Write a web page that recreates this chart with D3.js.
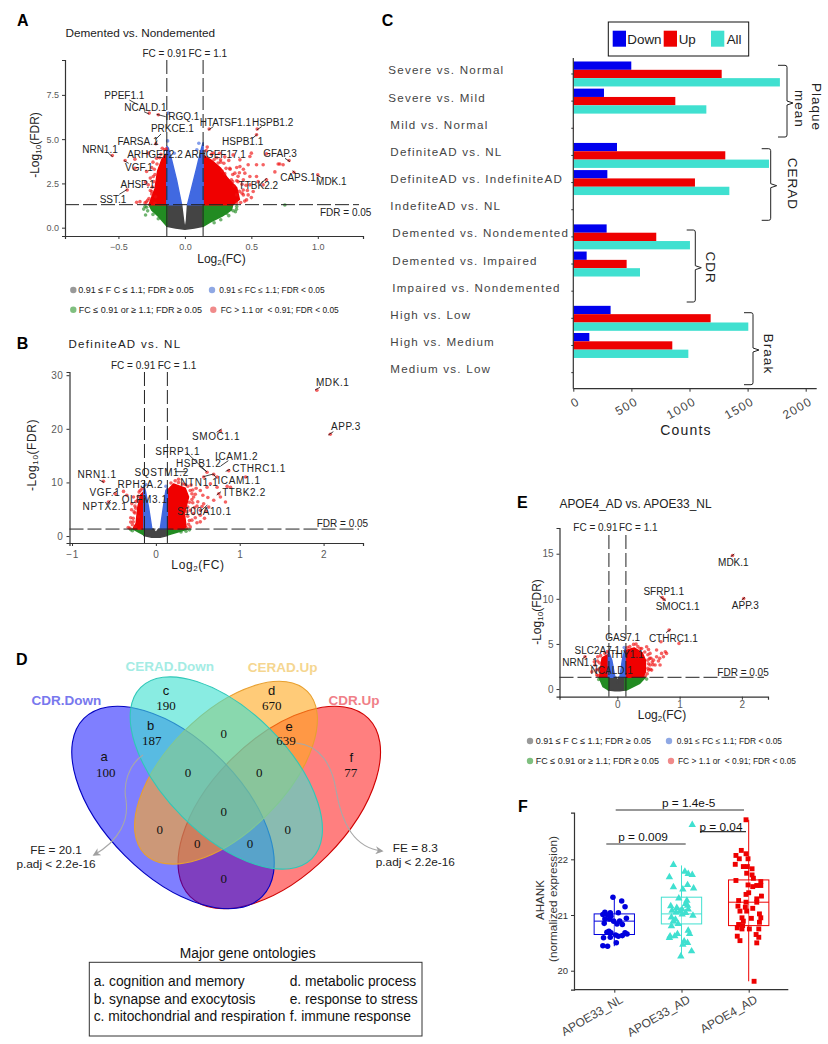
<!DOCTYPE html>
<html>
<head>
<meta charset="utf-8">
<script src="https://cdn.jsdelivr.net/npm/d3@7"></script>
<style>
html, body { margin: 0; padding: 0; background: #fff; }
svg { display: block; }
text { font-family: "Liberation Sans", Arial, sans-serif; }
</style>
</head>
<body>
<div class="canvas"></div>
<script>
// ---------- panel C counts ----------
const comparisons = ['Severe vs. Normal', 'Severe vs. Mild', 'Mild vs. Normal', 'DefiniteAD vs. NL',
    'DefiniteAD vs. IndefiniteAD', 'IndefiteAD vs. NL', 'Demented vs. Nondemented', 'Demented vs. Impaired',
    'Impaired vs. Nondemented', 'High vs. Low', 'High vs. Medium', 'Medium vs. Low'];
const downCounts = [499, 264, 0, 376, 293, 0, 287, 115, 0, 321, 138, 0];
const upCounts = [1277, 878, 2, 1308, 1047, 0, 714, 459, 0, 1182, 852, 0];
const allCounts = [1778, 1145, 0, 1684, 1343, 0, 1004, 574, 0, 1506, 990, 0];
const countTicks = [0, 500, 1000, 1500, 2000];

// ---------- panel D counts ----------
const vennLetters = ['a', 'b', 'c', 'd', 'e', 'f'];
const vennCounts = [100, 187, 190, 670, 639, 77];
const vennEmpty = [0, 0, 0, 0, 0, 0, 0, 0, 0];
const ontologies = ['a. cognition and memory', 'b. synapse and exocytosis', 'c. mitochondrial and respiration',
    'd. metabolic process', 'e. response to stress', 'f. immune response'];

// ---------- volcano panels: outlines of the overplotted masses, then the points that can be told apart ----------
const aGray = [[-0.136,1.3],[-0.025,1.3],[-0.01,0.4],[-0.004,0.12],[0.006,0.12],[0.012,0.4],[0.02,1.3],[0.137,1.3],[0.137,0.08],[0.07,-0.02],[0,-0.09],[-0.07,-0.02],[-0.136,0.08]];
const aGreenL = [[-0.136,1.3],[-0.27,1.3],[-0.25,1.0],[-0.2,0.65],[-0.136,0.1]];
const aGreenR = [[0.137,1.3],[0.36,1.3],[0.35,1.0],[0.28,0.65],[0.19,0.32],[0.137,0.08]];
const aBlueL = [[-0.136,1.3],[-0.025,1.3],[-0.063,2.7],[-0.1,3.83],[-0.125,4.5],[-0.136,4.6]];
const aBlueR = [[0.02,1.3],[0.05,2.2],[0.09,3.4],[0.115,4.2],[0.137,4.8],[0.137,1.3]];
const aRedL = [[-0.136,1.3],[-0.27,1.3],[-0.225,2.2],[-0.205,3.2],[-0.17,3.9],[-0.136,4.2]];
const aRedR = [[0.137,1.3],[0.137,4.1],[0.2,3.8],[0.27,3.35],[0.32,2.8],[0.39,2.25],[0.41,1.6],[0.36,1.3]];
const aRedPts = [[-0.546,4.08],[-0.45,3.79],[-0.376,3.87],[-0.376,3.36],[-0.268,6.47],[-0.2,6.38],[-0.218,4.74],[-0.276,4.21],[-0.17,4.49],[-0.213,3.92],[-0.288,3.17],[-0.295,2.57],[-0.276,2.42],[-0.238,2.89],[-0.25,2.04],[-0.22,1.75],[-0.363,1.43],[-0.338,1.47],[-0.434,2.13],[-0.226,1.38],[-0.25,3.4],[-0.24,3.7],[-0.26,2.8],[-0.3,1.4],
    [-0.29,1.45],[-0.27,1.65],[-0.25,1.9],[-0.245,2.3],[-0.235,2.6],[-0.225,3.0],[-0.23,3.3],[-0.21,3.6],[-0.19,3.95],[-0.18,4.15],[-0.155,4.4],[-0.14,4.45],[-0.26,2.1],[-0.28,1.55],
    [0.183,5.57],[0.544,5.57],[0.539,5.25],[0.5,4.21],[0.168,4.55],[0.213,4.21],[0.268,3.83],[0.293,3.64],[0.363,4.11],[0.414,3.83],[0.489,4.02],[0.476,3.55],[0.539,3.55],[0.589,3.55],[0.614,4.17],[0.702,3.6],[0.714,3.6],[0.739,3.55],[0.784,3.79],[0.677,3.15],[0.82,3.13],[1.0,2.98],[0.614,2.7],[0.539,2.89],[0.489,2.89],[0.451,3.08],[0.376,3.08],[0.338,3.36],[0.414,3.45],[0.589,2.42],[0.551,2.6],[0.489,2.42],[0.439,2.13],[0.476,1.85],[0.514,2.04],[0.464,1.57],[0.388,1.85],[0.33,3.8],[0.26,4.2],[0.39,3.4],[0.44,2.7],[0.4,2.9],[0.36,2.6],[0.46,2.4],[0.3,4.0],
    [0.16,4.35],[0.2,4.15],[0.24,3.95],[0.27,3.7],[0.31,3.35],[0.3,3.05],[0.36,3.0],[0.35,2.7],[0.39,2.65],[0.43,2.45],[0.41,2.05],[0.44,1.85],[0.45,1.5],[0.42,1.42],[0.39,1.4],[0.25,3.65],[0.22,3.85],[0.28,3.2],[0.34,3.3],[0.37,2.35],[0.43,1.95],[0.4,2.6],[0.47,2.1],[0.5,1.7],[0.41,3.1],[0.44,3.3]];
const aBluePts = [[-0.125,6.47],[0.105,4.77],[-0.13,4.9],[-0.08,4.2],[0.09,4.4]];
const aGreenPts = [[-0.296,0.72],[-0.288,1.15],[-0.238,1.0],[0.388,1.04],[0.363,0.96],[0.752,1.28],[0.313,0.81],[-0.31,1.05],[-0.3,1.2],[-0.28,0.95],[-0.24,0.75],[-0.2,0.5],[0.39,1.2],[0.38,0.9],[0.33,0.68],[0.27,0.45],[0.22,0.28]];

const bGray = [[-0.143,1.3],[-0.03,1.3],[0,0.6],[0.03,1.3],[0.137,1.3],[0.137,0.1],[0.05,-0.25],[-0.05,-0.25],[-0.143,0.1]];
const bGreenL = [[-0.143,1.3],[-0.27,1.3],[-0.2,0.7],[-0.143,0.2]];
const bGreenR = [[0.137,1.3],[0.38,1.3],[0.25,0.7],[0.137,0.2]];
const bBlueL = [[-0.143,1.3],[-0.048,1.3],[-0.088,5.4],[-0.127,8.5],[-0.143,9.4]];
const bBlueR = [[0.052,1.3],[0.09,5.4],[0.12,8.5],[0.137,8.9],[0.137,1.3]];
const bRedL = [[-0.143,1.3],[-0.275,1.3],[-0.235,2.35],[-0.215,5.4],[-0.18,7.7],[-0.143,8.3]];
const bRedR = [[0.137,1.3],[0.137,8.5],[0.21,9.7],[0.35,8.9],[0.39,7.3],[0.34,4.2],[0.36,1.73],[0.33,1.3]];
const bRedPts = [[1.92,27.2],[2.08,19.0],[0.77,19.6],[-0.625,10.2],[-0.486,7.9],[-0.566,6.36],[-0.386,8.33],[0.869,12.2],[0.61,11.9],[1.07,11],[0.69,11.5],[0.73,11],[0.57,11],[0.75,7.9],[0.85,9.26],[0.89,9.1],[0.83,6.36],[0.63,5.4],[0.53,2.65],[0.49,2.47],[0.43,2.96],[0.41,4.8],[0.45,7.28],[0.53,8.5],[0.61,9.1],[0.65,9.75],[0.73,9.1],[0.57,6],[0.69,6.67],[0.77,7.28],[0.53,4.8],[0.53,3.9],[0.47,3.4],[0.44,6.2],[0.48,8.9],[0.5,6.4],[0.56,7.6],[0.62,7.2],[0.42,9.5],[0.46,5.3],
    [0.18,9.9],[0.23,10.3],[0.27,10.0],[0.32,9.7],[0.38,9.3],[0.41,8.5],[0.43,7.9],[0.43,6.8],[0.4,6.3],[0.38,5.4],[0.37,4.5],[0.38,3.7],[0.4,2.9],[0.39,2.2],[0.41,1.7],[0.37,1.5],[0.35,9.6],[0.27,10.6],[0.44,8.6],[0.47,7.8],[0.49,5.6],[0.45,4.2],[0.55,5.5],[0.6,4.6],[0.58,3.3],
    [-0.27,2.65],[-0.207,3.58],[-0.287,6.05],[-0.267,7.28],[-0.347,7.6],[-0.22,6.67],[-0.247,1.73],[-0.187,8.5],[-0.3,3.4],[-0.26,4.5],[-0.24,5.2],[-0.33,1.6],
    [-0.31,1.45],[-0.28,2.1],[-0.27,3.3],[-0.25,4.3],[-0.25,5.6],[-0.24,6.4],[-0.21,7.4],[-0.2,8.2],[-0.165,8.8],[-0.29,4.9],[-0.3,2.6]];
const bBluePts = [[-0.12,9.6],[0.12,9.3]];
const bGreenPts = [[-0.3,1.2],[0.4,1.15],[-0.28,1.0],[0.36,0.9],[0.3,0.75]];

const eGray = [[-0.145,1.3],[-0.02,1.3],[0,0.7],[0.02,1.3],[0.123,1.3],[0.123,-0.1],[0.04,-0.2],[-0.04,-0.2],[-0.145,-0.1]];
const eGreenL = [[-0.145,1.3],[-0.295,1.3],[-0.23,0.26],[-0.145,-0.1]];
const eGreenR = [[0.123,1.3],[0.45,1.3],[0.36,0.63],[0.15,-0.1],[0.123,-0.1]];
const eBlueL = [[-0.145,1.3],[-0.04,1.3],[-0.09,3.2],[-0.13,3.95],[-0.145,4.2]];
const eBlueR = [[0.04,1.3],[0.08,3.2],[0.11,4.1],[0.123,4.4],[0.123,1.3]];
const eRedL = [[-0.145,1.3],[-0.285,1.3],[-0.27,2.29],[-0.245,3.45],[-0.145,3.85]];
const eRedR = [[0.123,1.3],[0.123,4.25],[0.27,4.55],[0.4,4.0],[0.45,3.2],[0.45,1.9],[0.41,1.3]];
const eRedPts = [[1.85,14.8],[2.03,10.04],[0.72,10.15],[0.75,9.93],[0.83,6.53],[0.99,5.05],[0.7,5.24],[-0.52,3.58],[-0.37,3.03],[-0.41,1.92],
    [0.79,3.95],[0.77,4.13],[0.71,3.95],[0.74,3.58],[0.68,3.4],[0.63,3.58],[0.58,3.2],[0.525,3.95],[0.606,2.66],[0.686,2.66],[0.525,2.66],[0.5,2.1],[0.47,4.69],[0.5,4.39],[0.3,4.98],[0.365,4.5],[0.55,2.1],[0.63,4.32],[0.56,3.0],[0.52,3.4],[0.66,3.1],
    [0.2,4.7],[0.26,4.95],[0.33,4.7],[0.39,4.5],[0.44,4.1],[0.49,3.8],[0.49,3.2],[0.5,2.8],[0.49,2.3],[0.48,1.7],[0.45,1.45],[0.54,3.4],[0.53,2.2],[0.57,2.7],[0.16,4.6],
    [-0.36,2.66],[-0.316,3.58],[-0.33,1.55],[-0.34,2.1],[-0.31,1.5],[-0.3,2.2],[-0.29,2.9],[-0.27,3.7],[-0.2,3.95],[-0.16,4.15],[-0.32,3.1]];
const eBluePts = [[0.11,4.6]];
const eGreenPts = [[0.47,1.1],[-0.3,1.05]];

// gene names with [centre x, centre y] and optional leader, measured on 3x crops
const aLabels = [['PPEF1.1',373,285,388,300,410,312],['NCALD.1',436,323,432,335,447,342],['IRGQ.1',547,348,470,343,497,350],['HTATSF1.1',676,366,625,390,640,380],['HSPB1.2',818,367,770,390,785,380],['PRKCE.1',517,385,467,418,483,402],['FARSA.1',414,423,465,432,472,422],['HSPB1.1',728,425,757,415,772,403],['NRN1.1',300,447,325,460,338,470],['GFAP.3',840,460,855,475,870,485],['ARHGEF2.2',465,462],['ARHGEF17.1',646,462],['VGF.1',417,502,372,482,386,490],['CAPS.1',894,533,878,512,887,522],['MDK.1',994,545,950,525,965,533],['AHSP.1',413,553],['TTBK2.2',775,555,785,548,800,535],['SST.1',339,597,358,583,382,568]];
const bLabels = [['MDK.1',998,156,945,180,960,172],['APP.3',1038,290,985,315,1000,305],['SMOC1.1',648,319,650,307,665,297],['SFRP1.1',533,363,560,368,620,425],['ICAM1.2',710,378,662,408,685,392],['HSPB1.2',596,400,600,410,620,425],['CTHRC1.1',777,414,677,424,690,418],['SQSTM1.2',485,427,525,425,560,425],['NRN1.1',291,433,298,450,312,457],['ICAM1.1',717,451,640,432,650,445],['NTN1.1',598,458,610,440,640,432],['RPH3A.2',421,463],['VGF.1',315,487,340,490,352,483],['TTBK2.2',732,488,650,495,663,485],['OLFM3.1',434,508],['NPTX2.1',315,529,320,525,332,510],['S100A10.1',613,543,600,545,622,525]];
const eLabels = [['MDK.1',700,216,692,200,703,192],['SFRP1.1',491,305,478,318,497,332],['SMOC1.1',533,348],['APP.3',736,347,725,330,735,322],['GAS7.1',368,441],['CTHRC1.1',520,444,498,428,512,418],['SLC2A7.1',292,481],['THY1.1',380,492],['NRN1.1',240,517,248,506,258,498],['NCALD.1',335,542]];

// ---------- panel F: [jitter in category units, normalized expression] ----------
const boxGroups = ['APOE33_NL', 'APOE33_AD', 'APOE4_AD'];
const boxQ1 = [20.65, 20.84, 20.81];
const boxMedian = [20.89, 21.02, 21.23];
const boxQ3 = [21.02, 21.32, 21.63];
const whiskerLow = [20.44, 20.26, 19.81];
const whiskerHigh = [21.33, 21.89, 22.71];
const nlPoints = [[-0.02,21.32],[0.11,21.25],[0.16,21.15],[-0.14,21.05],[-0.06,21.04],[0.06,21.04],[-0.17,21.01],[-0.10,21.00],[-0.05,20.98],[0.18,20.94],[-0.14,20.93],[-0.07,20.93],[-0.01,20.89],[0.08,20.89],[0.04,20.84],[-0.15,20.85],[0.12,20.83],[-0.08,20.71],[-0.11,20.69],[-0.05,20.68],[0.16,20.68],[0.19,20.66],[0.02,20.64],[0.12,20.63],[-0.06,20.60],[-0.16,20.59],[0.06,20.62],[0.03,20.50],[-0.17,20.45],[-0.10,20.44]];
const adPoints = [[-0.12,21.90],[0.05,21.78],[-0.18,21.68],[0.16,21.72],[0.10,21.74],[-0.12,21.50],[0.09,21.54],[0.02,21.46],[0.18,21.48],[-0.04,21.30],[0.08,21.26],[-0.16,21.16],[0.09,21.17],[0.06,21.20],[-0.07,21.13],[-0.14,21.08],[0.01,21.10],[0.10,21.10],[-0.02,21.07],[-0.08,21.05],[0.06,21.04],[0.17,20.99],[0.01,21.01],[-0.15,20.96],[-0.09,20.92],[-0.12,20.89],[-0.05,20.84],[-0.15,20.80],[0.10,20.72],[0.12,20.66],[-0.06,20.66],[-0.17,20.62],[-0.10,20.62],[-0.18,20.59],[0.04,20.53],[0.09,20.50],[0.02,20.47],[0.15,20.35],[-0.01,20.26],[0.16,22.62]];
const e4Points = [[-0.04,22.71],[-0.11,22.16],[-0.19,22.07],[-0.04,22.10],[-0.14,22.01],[-0.01,22.01],[-0.20,21.91],[-0.08,21.87],[-0.02,21.87],[0.05,21.83],[-0.03,21.75],[0.05,21.72],[0.07,21.66],[-0.19,21.62],[0.18,21.60],[-0.01,21.54],[0.06,21.51],[0.12,21.53],[0.18,21.53],[0.00,21.40],[-0.04,21.37],[0.19,21.34],[0.12,21.29],[-0.15,21.26],[0.12,21.23],[-0.04,21.23],[-0.16,21.16],[-0.05,21.14],[0.06,21.12],[-0.13,21.07],[-0.03,21.07],[0.16,21.02],[0.18,20.95],[-0.10,20.95],[0.04,20.94],[-0.08,20.89],[-0.15,20.83],[-0.09,20.81],[-0.17,20.77],[-0.10,20.75],[0.01,20.75],[0.16,20.87],[0.15,20.75],[0.11,20.65],[-0.17,20.62],[0.15,20.60],[-0.13,20.54],[0.12,20.50],[0.08,19.81]];

const svg = d3.select('.canvas')
    .append('svg')
    .attr('width', 828)
    .attr('height', 1044);

const INK = '#222';
const AXIS_GREY = '#5a5a5a';

function label(parent, x, y, s, size, opts = {}) {
    const t = parent.append('text')
        .attr('x', x)
        .attr('y', y)
        .attr('font-size', size)
        .attr('fill', opts.fill || INK)
        .attr('text-anchor', opts.anchor || 'start')
        .attr('dominant-baseline', 'central')
        .text(s);
    if (opts.spacing) t.attr('letter-spacing', opts.spacing);
    if (opts.weight) t.attr('font-weight', opts.weight);
    if (opts.family) t.style('font-family', opts.family);
    if (opts.rotate !== undefined) t.attr('transform', `rotate(${opts.rotate} ${x} ${y})`);
    return t;
}

// panel letters
[['A', 17, 20], ['B', 16.7, 343], ['C', 381.7, 20], ['D', 16, 659], ['E', 517, 502], ['F', 518, 806]].forEach(d => {
    label(svg, d[1], d[2], d[0], 16, { weight: 'bold', fill: '#000' });
});

// ---------- volcano ----------
function volcano(cfg) {
    const g = svg.append('g');
    const x = d3.scaleLinear().domain(cfg.xDomain).range(cfg.xRange);
    const y = d3.scaleLinear().domain(cfg.yDomain).range(cfg.yRange);
    const [left, right] = cfg.xRange;
    const [bottom, top] = cfg.yRange;
    const outline = d3.line().x(d => x(d[0])).y(d => y(d[1]));

    const masses = [[cfg.gray, '#444'], [cfg.greenL, '#228b22'], [cfg.greenR, '#228b22'],
        [cfg.redL, '#f00000'], [cfg.redR, '#f00000'], [cfg.blueL, '#4169e1'], [cfg.blueR, '#4169e1']];
    masses.forEach(m => {
        g.append('path')
            .attr('d', outline(m[0]) + 'Z')
            .attr('fill', m[1])
            .attr('stroke', m[1])
            .attr('stroke-width', 1.5)
            .attr('stroke-linejoin', 'round');
    });

    const scatter = [[cfg.greenPts, '#228b22'], [cfg.bluePts, '#4169e1'], [cfg.redPts, '#f01010']];
    scatter.forEach(s => {
        g.append('g').selectAll('circle')
            .data(s[0])
            .enter()
            .append('circle')
            .attr('cx', d => x(d[0]))
            .attr('cy', d => y(d[1]))
            .attr('r', 1.8)
            .attr('fill', s[1])
            .attr('fill-opacity', 0.65);
    });

    // thresholds
    const fcLow = x(-0.136);
    const fcHigh = x(0.137);
    const fdr = y(1.3);
    [fcLow, fcHigh].forEach(px => {
        g.append('line').attr('x1', px).attr('x2', px).attr('y1', cfg.fcTop).attr('y2', fdr)
            .attr('stroke', INK).attr('stroke-width', 1).attr('stroke-dasharray', '14 4');
        g.append('line').attr('x1', px).attr('x2', px).attr('y1', fdr).attr('y2', bottom)
            .attr('stroke', INK).attr('stroke-width', 1);
    });
    g.append('line').attr('x1', left).attr('x2', right - 4).attr('y1', fdr).attr('y2', fdr)
        .attr('stroke', INK).attr('stroke-width', 1).attr('stroke-dasharray', '14 4');

    // axes
    const xAxis = g.append('g').attr('transform', `translate(0, ${bottom})`)
        .call(d3.axisBottom(x).tickValues(cfg.xTicks).tickFormat(cfg.xFormat).tickSize(3).tickPadding(cfg.tickPad));
    const yAxis = g.append('g').attr('transform', `translate(${left}, 0)`)
        .call(d3.axisLeft(y).tickValues(cfg.yTicks).tickFormat(cfg.yFormat).tickSize(3).tickPadding(3));
    [xAxis, yAxis].forEach(a => {
        a.selectAll('.domain').attr('stroke', '#333').attr('stroke-width', 1.2);
        a.selectAll('line').attr('stroke', '#333');
        a.selectAll('text').attr('fill', AXIS_GREY).attr('font-size', cfg.tickSize)
            .attr('letter-spacing', cfg.spacing).style('font-family', '"Liberation Sans"');
    });

    // gene labels and leaders
    cfg.labels.forEach(d => {
        label(g, cfg.ox + d[1] / 3, cfg.oy + d[2] / 3, d[0], 10, { anchor: 'middle', spacing: cfg.spacing });
        if (d.length > 3) {
            g.append('line')
                .attr('x1', cfg.ox + d[3] / 3).attr('y1', cfg.oy + d[4] / 3)
                .attr('x2', cfg.ox + d[5] / 3).attr('y2', cfg.oy + d[6] / 3)
                .attr('stroke', '#111').attr('stroke-width', 0.8);
        }
    });

    // threshold captions
    label(g, cfg.fcText[0], cfg.fcText[2], 'FC = 0.91', 10);
    label(g, cfg.fcText[1], cfg.fcText[2], 'FC = 1.1', 10);
    label(g, cfg.fdrText[0], cfg.fdrText[1], 'FDR = 0.05', 10);

    // title and axis titles
    label(g, cfg.title[1], cfg.title[2], cfg.title[0], cfg.title[3], { spacing: cfg.title[4] });
    const xt = label(g, cfg.xTitle[0], cfg.xTitle[1], 'Log', 12, { anchor: 'middle', spacing: cfg.spacing });
    xt.append('tspan').attr('font-size', 8).attr('dy', 3).text('2');
    xt.append('tspan').attr('dy', -3).text('(FC)');
    const yt = label(g, cfg.yTitle[0], cfg.yTitle[1], '-Log', 12, { anchor: 'middle', rotate: -90, spacing: cfg.spacing });
    yt.append('tspan').attr('font-size', 8).attr('dy', 3).text('10');
    yt.append('tspan').attr('dy', -3).text('(FDR)');
}

const signedFormat = d => String(d).replace('-', '\u2212');

volcano({
    gray: aGray, greenL: aGreenL, greenR: aGreenR, blueL: aBlueL, blueR: aBlueR, redL: aRedL, redR: aRedR,
    redPts: aRedPts, bluePts: aBluePts, greenPts: aGreenPts, labels: aLabels,
    xDomain: [-0.902, 1.34], xRange: [65, 363], yDomain: [-0.47, 9.47], yRange: [236, 60],
    xTicks: [-0.5, 0, 0.5, 1], xFormat: d3.format('.1f'), yTicks: [0, 2.5, 5, 7.5], yFormat: d3.format('.1f'),
    tickSize: 9, tickPad: 5, spacing: 0, ox: 0, oy: 0, fcTop: 60,
    fcText: [142.5, 188.5, 53.5], fdrText: [320, 212.5],
    title: ['Demented vs. Nondemented', 65.5, 32.5, 11.75, 0],
    xTitle: [221.5, 258.5], yTitle: [35, 145]
});

volcano({
    gray: bGray, greenL: bGreenL, greenR: bGreenR, blueL: bBlueL, blueR: bBlueR, redL: bRedL, redR: bRedR,
    redPts: bRedPts, bluePts: bBluePts, greenPts: bGreenPts, labels: bLabels,
    xDomain: [-1.03, 2.47], xRange: [69.5, 363], yDomain: [-1.3, 30.6], yRange: [543, 372],
    xTicks: [-1, 0, 1, 2], xFormat: signedFormat, yTicks: [0, 10, 20, 30], yFormat: d3.format('d'),
    tickSize: 10, tickPad: 5, spacing: 0.6, ox: 0, oy: 330, fcTop: 372,
    fcText: [111, 157.7, 365.5], fdrText: [316.7, 523],
    title: ['DefiniteAD vs. NL', 68.5, 344, 11.5, 1.3],
    xTitle: [198, 565], yTitle: [32, 455]
});

volcano({
    gray: eGray, greenL: eGreenL, greenR: eGreenR, blueL: eBlueL, blueR: eBlueR, redL: eRedL, redR: eRedR,
    redPts: eRedPts, bluePts: eBluePts, greenPts: eGreenPts, labels: eLabels,
    xDomain: [-0.93, 2.42], xRange: [559.5, 768], yDomain: [-0.85, 17.85], yRange: [696.7, 528],
    xTicks: [0, 1, 2], xFormat: d3.format('d'), yTicks: [0, 5, 10, 15], yFormat: d3.format('d'),
    tickSize: 10, tickPad: 1, spacing: 0, ox: 500, oy: 490, fcTop: 535,
    fcText: [573.3, 619, 527.5], fdrText: [717.3, 672],
    title: ['APOE4_AD vs. APOE33_NL', 559.5, 503.5, 11.9, 0],
    xTitle: [662, 715], yTitle: [537, 612]
});

// volcano legends
function volcanoLegend(rows) {
    const swatches = ['#999999', '#8fa8e4', '#7fbf7f', '#f08a8a'];
    const texts = ['0.91 \u2264 F C \u2264 1.1; FDR \u2265 0.05', '0.91 \u2264 FC \u2264 1.1; FDR < 0.05',
        'FC \u2264 0.91 or \u2265 1.1; FDR \u2265 0.05', 'FC > 1.1 or  < 0.91; FDR < 0.05'];
    const sizes = [9, 8.4, 9, 8.4];
    rows.forEach((r, i) => {
        svg.append('circle').attr('cx', r[0]).attr('cy', r[2]).attr('r', 3.2).attr('fill', swatches[i]);
        label(svg, r[1], r[2], texts[i], sizes[i]).attr('xml:space', 'preserve');
    });
}
volcanoLegend([[73.3, 78.3, 290], [212, 219.3, 290], [73.3, 78.7, 309.7], [213.3, 220.7, 309.7]]);
volcanoLegend([[530, 535.7, 741], [669, 676.7, 741], [530, 535.7, 761], [671, 678, 761]]);

// ---------- panel C bars ----------
const panelC = svg.append('g');
const countX = d3.scaleLinear().domain([0, 2000]).range([573.3, 805.7]);
const rowY = d3.scaleBand().domain(comparisons).range([60.4, 386.2]).paddingInner(0.08).paddingOuter(0.04);
const seriesY = d3.scaleBand().domain(['Down', 'Up', 'All']).range([0, rowY.bandwidth()]);
const seriesColour = d3.scaleOrdinal().domain(['Down', 'Up', 'All']).range(['#0000ee', '#ee0000', '#40e0d0']);
const seriesValues = { Down: downCounts, Up: upCounts, All: allCounts };

['Down', 'Up', 'All'].forEach(s => {
    panelC.append('g').selectAll('rect')
        .data(seriesValues[s])
        .enter()
        .append('rect')
        .attr('x', countX(0))
        .attr('y', (d, i) => rowY(comparisons[i]) + seriesY(s))
        .attr('width', d => countX(d) - countX(0))
        .attr('height', seriesY.bandwidth())
        .attr('fill', seriesColour(s));
});

const countAxis = panelC.append('g').attr('transform', 'translate(0, 388.7)')
    .call(d3.axisBottom(countX).tickValues(countTicks).tickFormat(d3.format('d')).tickSize(3));
countAxis.select('.domain').attr('d', 'M573.3,0H816.7').attr('stroke', '#333').attr('stroke-width', 1.2);
countAxis.selectAll('line').attr('stroke', '#333');
countAxis.selectAll('text')
    .attr('font-size', 12).attr('fill', '#444').attr('letter-spacing', 1.2)
    .attr('text-anchor', 'end').attr('dy', '0.3em').attr('y', 0)
    .attr('transform', 'translate(5, 12) rotate(-30)')
    .style('font-family', '"Liberation Sans"');

const rowAxis = panelC.append('g').attr('transform', 'translate(573.3, 0)')
    .call(d3.axisLeft(rowY).tickSize(2).tickFormat(''));
rowAxis.select('.domain').attr('d', 'M0,58V388.7').attr('stroke', '#333').attr('stroke-width', 1.2);
rowAxis.selectAll('line').attr('stroke', '#333');

const rowLabelX = [388.3, 388.3, 390.3, 390.3, 390.3, 390.3, 392.3, 392.3, 392.3, 390.3, 390.3, 390.3];
comparisons.forEach((c, i) => {
    label(panelC, rowLabelX[i], rowY(c) + rowY.bandwidth() / 2 - 4, c, 11.6, { fill: '#444', spacing: 1.22 });
});
label(panelC, 686, 430, 'Counts', 14, { anchor: 'middle', spacing: 1.2 });

// legend box
panelC.append('rect').attr('x', 608.3).attr('y', 22).attr('width', 140.4).attr('height', 34)
    .attr('fill', '#fff').attr('stroke', '#111').attr('stroke-width', 1);
[['Down', 612.7, 627.3], ['Up', 663.7, 678.7], ['All', 711, 726.7]].forEach(d => {
    panelC.append('rect').attr('x', d[1]).attr('y', 30.7).attr('width', 13.3).attr('height', 16).attr('fill', seriesColour(d[0]));
    label(panelC, d[2], 39.3, d[0], 13.4);
});

// group brackets
const brackets = [
    { x0: 778, x1: 787, top: 65.3, mid: 103, bottom: 137 },
    { x0: 761.7, x1: 770.7, top: 148.7, mid: 185.7, bottom: 220.3 },
    { x0: 686.7, x1: 695.3, top: 230, mid: 267.7, bottom: 302 },
    { x0: 744, x1: 753, top: 312.7, mid: 350, bottom: 384.7 }
];
brackets.forEach(b => {
    panelC.append('path')
        .attr('d', `M${b.x0},${b.top}H${b.x1 - 2}Q${b.x1},${b.top} ${b.x1},${b.top + 2}V${b.mid - 2}L${b.x1 + 6},${b.mid}L${b.x1},${b.mid + 2}V${b.bottom - 2}Q${b.x1},${b.bottom} ${b.x1 - 2},${b.bottom}H${b.x0}`)
        .attr('fill', 'none')
        .attr('stroke', '#222')
        .attr('stroke-width', 1);
});
[['Plaque', 816.5, 107], ['mean', 799, 109], ['CERAD', 792.7, 184], ['CDR', 710.7, 267.7], ['Braak', 768, 354]].forEach(d => {
    label(panelC, d[1], d[2], d[0], 13.5, { anchor: 'middle', rotate: 90, spacing: 1 });
});

// ---------- panel D venn ----------
const panelD = svg.append('g');
// drawn red, blue, orange, cyan so the overlaps blend as in the figure
const sets = [
    { name: 'CDR.Up', cx: 279.3, cy: 807.5, a: 126, b: 68, angle: -45, fill: '#ff0000', opacity: 0.5, line: '#d00000', text: '#f07f88', tx: 1062, ty: 180 },
    { name: 'CDR.Down', cx: 173, cy: 807.5, a: 126, b: 68, angle: 45, fill: '#0000ff', opacity: 0.5, line: '#0000c0', text: '#7878ee', tx: 199, ty: 180 },
    { name: 'CERAD.Up', cx: 226, cy: 772.7, a: 115, b: 59, angle: -45, fill: '#ffa81e', opacity: 0.6, line: '#e8a030', text: '#f5d690', tx: 848, ty: 83 },
    { name: 'CERAD.Down', cx: 226.3, cy: 773, a: 121, b: 62, angle: 45, fill: '#40e0d0', opacity: 0.62, line: '#30c8b8', text: '#a4ece4', tx: 509, ty: 80 }
];
sets.forEach(s => {
    panelD.append('ellipse')
        .attr('cx', s.cx).attr('cy', s.cy).attr('rx', s.a).attr('ry', s.b)
        .attr('transform', `rotate(${s.angle} ${s.cx} ${s.cy})`)
        .attr('fill', s.fill).attr('fill-opacity', s.opacity)
        .attr('stroke', s.line).attr('stroke-width', 1.1);
    label(panelD, s.tx / 3, 640 + s.ty / 3, s.name, 13.5, { anchor: 'middle', weight: 'bold', fill: s.text });
});

const D_SERIF = '"Liberation Serif"';
const letterSpots = [[312, 350], [452, 255], [498, 150], [815, 150], [867, 258], [1054, 353]];
const countSpots = [[317, 397], [455, 300], [498, 195], [815, 195], [858, 301], [1052, 397]];
vennLetters.forEach((l, i) => {
    label(panelD, letterSpots[i][0] / 3, 640 + letterSpots[i][1] / 3, l, 13, { anchor: 'middle', fill: '#111' });
    label(panelD, countSpots[i][0] / 3, 640 + countSpots[i][1] / 3, vennCounts[i], 13, { anchor: 'middle', fill: '#111' }).style('font-family', D_SERIF);
});
const emptySpots = [[671, 280], [564, 397], [778, 397], [671, 513], [479, 567], [863, 567], [592, 610], [750, 610], [671, 715]];
vennEmpty.forEach((v, i) => {
    label(panelD, emptySpots[i][0] / 3, 640 + emptySpots[i][1] / 3, v, 13, { anchor: 'middle', fill: '#111' }).style('font-family', D_SERIF);
});

const defs = svg.append('defs');
defs.append('marker').attr('id', 'greyArrow').attr('viewBox', '0 0 10 10').attr('refX', 8).attr('refY', 5)
    .attr('markerWidth', 8).attr('markerHeight', 8).attr('markerUnits', 'userSpaceOnUse').attr('orient', 'auto')
    .append('path').attr('d', 'M0,0L10,5L0,10L3,5Z').attr('fill', '#a0a0a0');
panelD.append('path')
    .attr('d', 'M143,755C128,765 123,785 126,800C129,820 120,840 94,855')
    .attr('fill', 'none').attr('stroke', '#a8a8a8').attr('stroke-width', 1.1).attr('marker-end', 'url(#greyArrow)');
panelD.append('path')
    .attr('d', 'M296,743C320,745 332,765 336,790C342,825 355,848 382,851')
    .attr('fill', 'none').attr('stroke', '#a8a8a8').attr('stroke-width', 1.1).attr('marker-end', 'url(#greyArrow)');

label(panelD, 56, 850, 'FE = 20.1', 11.8, { anchor: 'middle' });
label(panelD, 56, 864, 'p.adj < 2.2e-16', 11.8, { anchor: 'middle' });
label(panelD, 415.3, 847.5, 'FE = 8.3', 11.8, { anchor: 'middle' });
label(panelD, 415.3, 861.7, 'p.adj < 2.2e-16', 11.8, { anchor: 'middle' });

label(panelD, 247.7, 953, 'Major gene ontologies', 13.8, { anchor: 'middle', fill: '#111' });
panelD.append('rect').attr('x', 89.3).attr('y', 962.3).attr('width', 332.7).attr('height', 73.7)
    .attr('fill', 'none').attr('stroke', '#333').attr('stroke-width', 1);
ontologies.forEach((t, i) => {
    const col = i < 3 ? 93.7 : 289.7;
    const rowsY = [981.3, 999.7, 1016.7];
    label(panelD, col, rowsY[i % 3], t, 13.8, { fill: '#111' });
});

// ---------- panel F ----------
const panelF = svg.append('g');
const groupX = d3.scaleLinear().domain([0, 2]).range([614.3, 748.7]);
const exprY = d3.scaleLinear().domain([19.659, 22.837]).range([989.7, 812.7]);
const groupColours = ['#0000dd', '#40e0d0', '#ee0000'];
const groupPoints = [nlPoints, adPoints, e4Points];
const groupSymbols = [d3.symbolCircle, d3.symbolTriangle, d3.symbolSquare];

boxGroups.forEach((name, i) => {
    const c = groupColours[i];
    panelF.append('line').attr('x1', groupX(i)).attr('x2', groupX(i))
        .attr('y1', exprY(whiskerLow[i])).attr('y2', exprY(whiskerHigh[i]))
        .attr('stroke', c).attr('stroke-width', 1);
    panelF.append('rect')
        .attr('x', groupX(i - 0.3)).attr('width', groupX(0.6) - groupX(0))
        .attr('y', exprY(boxQ3[i])).attr('height', exprY(boxQ1[i]) - exprY(boxQ3[i]))
        .attr('fill', '#fff').attr('fill-opacity', 0.4).attr('stroke', c).attr('stroke-width', 1);
    panelF.append('line').attr('x1', groupX(i - 0.3)).attr('x2', groupX(i + 0.3))
        .attr('y1', exprY(boxMedian[i])).attr('y2', exprY(boxMedian[i]))
        .attr('stroke', c).attr('stroke-width', 1);
    panelF.append('g').selectAll('path')
        .data(groupPoints[i])
        .enter()
        .append('path')
        .attr('d', d3.symbol().type(groupSymbols[i]).size(24))
        .attr('transform', d => `translate(${groupX(i + d[0])}, ${exprY(d[1])})`)
        .attr('fill', c);
});

const exprAxis = panelF.append('g').attr('transform', 'translate(574, 0)')
    .call(d3.axisLeft(exprY).tickValues([20, 21, 22]).tickFormat(d3.format('d')).tickSize(3).tickPadding(3));
const groupAxis = panelF.append('g').attr('transform', 'translate(0, 989.7)')
    .call(d3.axisBottom(groupX).tickValues([0, 1, 2]).tickFormat(i => boxGroups[i]).tickSize(3));
groupAxis.select('.domain').attr('d', 'M574,0H788.3');
[exprAxis, groupAxis].forEach(a => {
    a.select('.domain').attr('stroke', '#333').attr('stroke-width', 1.2);
    a.selectAll('line').attr('stroke', '#333');
    a.selectAll('text').attr('fill', '#333').attr('font-size', 9.5).style('font-family', '"Liberation Sans"');
});
groupAxis.selectAll('text')
    .attr('font-size', 12).attr('fill', '#444')
    .attr('text-anchor', 'end').attr('dy', 0)
    .attr('transform', 'translate(6, 7) rotate(-30)');

label(panelF, 539, 900, 'AHANK', 11.6, { anchor: 'middle', rotate: -90, fill: '#333' });
label(panelF, 552.7, 899, '(normalized expression)', 11.8, { anchor: 'middle', rotate: -90, fill: '#333' });

[[615.7, 744, 810, 'p = 1.4e-5', 688.7, 803], [606.3, 685.7, 844, 'p = 0.009', 643, 837], [700, 746, 831.7, 'p = 0.04', 721, 826.7]].forEach(d => {
    panelF.append('line').attr('x1', d[0]).attr('x2', d[1]).attr('y1', d[2]).attr('y2', d[2])
        .attr('stroke', '#333').attr('stroke-width', 1.2);
    label(panelF, d[4], d[5], d[3], 11.8, { anchor: 'middle', fill: '#111' });
});
</script>
</body>
</html>
